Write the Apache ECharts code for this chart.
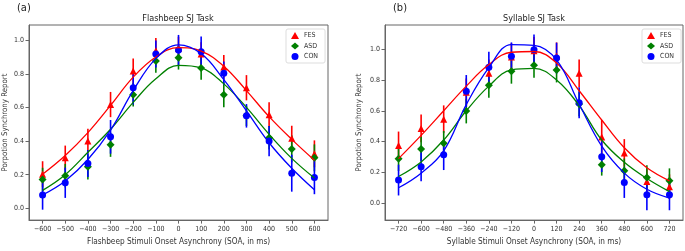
<!DOCTYPE html>
<html>
<head>
<meta charset="utf-8">
<script src="https://cdn.jsdelivr.net/npm/echarts@6/dist/echarts.min.js"></script>
<style>
  html, body { margin: 0; padding: 0; background: #fff; }
  #chart { width: 685px; height: 251px; }
</style>
</head>
<body>
<div id="chart"></div>
<script>
// SOA values (ms)
const soaFlash = [-600, -500, -400, -300, -200, -100, 0, 100, 200, 300, 400, 500, 600];
const soaSyl = [-720, -600, -480, -360, -240, -120, 0, 120, 240, 360, 480, 600, 720];
const yTicks = [0, 0.2, 0.4, 0.6, 0.8, 1.0];

// (a) Flashbeep – group means and error bar half-widths
const flashFES = [0.203, 0.30, 0.40, 0.617, 0.816, 0.937, 0.95, 0.918, 0.841, 0.717, 0.557, 0.416, 0.324];
const flashFESErr = [0.077, 0.073, 0.073, 0.075, 0.075, 0.075, 0.07, 0.07, 0.07, 0.075, 0.074, 0.075, 0.08];
const flashASD = [0.171, 0.194, 0.247, 0.378, 0.675, 0.876, 0.895, 0.835, 0.675, 0.55, 0.42, 0.353, 0.30];
const flashASDErr = [0.07, 0.07, 0.075, 0.072, 0.07, 0.07, 0.07, 0.07, 0.074, 0.06, 0.07, 0.08, 0.08];
const flashCON = [0.079, 0.152, 0.267, 0.425, 0.717, 0.918, 0.941, 0.931, 0.803, 0.55, 0.40, 0.209, 0.184];
const flashCONErr = [0.087, 0.09, 0.08, 0.1, 0.1, 0.08, 0.09, 0.09, 0.07, 0.07, 0.09, 0.11, 0.1];
// fitted curves, read at each SOA
const flashFESFit = [0.203, 0.314, 0.45, 0.612, 0.78, 0.90, 0.955, 0.935, 0.845, 0.70, 0.545, 0.41, 0.286];
const flashASDFit = [0.107, 0.20, 0.333, 0.47, 0.63, 0.77, 0.85, 0.835, 0.74, 0.60, 0.44, 0.297, 0.18];
const flashCONFit = [0.08, 0.163, 0.29, 0.465, 0.70, 0.89, 0.972, 0.92, 0.765, 0.58, 0.39, 0.238, 0.11];

// (b) Syllable
const sylFES = [0.375, 0.485, 0.545, 0.72, 0.843, 0.95, 0.989, 0.954, 0.843, 0.43, 0.326, 0.14, 0.107];
const sylFESErr = [0.09, 0.09, 0.09, 0.09, 0.09, 0.09, 0.09, 0.09, 0.09, 0.11, 0.09, 0.08, 0.08];
const sylASD = [0.289, 0.352, 0.389, 0.598, 0.765, 0.856, 0.895, 0.864, 0.644, 0.249, 0.21, 0.167, 0.146];
const sylASDErr = [0.08, 0.08, 0.08, 0.08, 0.08, 0.08, 0.08, 0.08, 0.08, 0.07, 0.08, 0.08, 0.08];
const sylCON = [0.15, 0.236, 0.315, 0.727, 0.883, 0.954, 0.996, 0.942, 0.652, 0.302, 0.134, 0.054, 0.054];
const sylCONErr = [0.1, 0.094, 0.1, 0.105, 0.1, 0.09, 0.1, 0.1, 0.1, 0.1, 0.1, 0.1, 0.1];
const sylFESFit = [0.289, 0.44, 0.60, 0.76, 0.90, 0.98, 0.985, 0.91, 0.73, 0.54, 0.36, 0.23, 0.145];
const sylASDFit = [0.173, 0.268, 0.41, 0.60, 0.76, 0.865, 0.875, 0.80, 0.634, 0.41, 0.265, 0.16, 0.075];
const sylCONFit = [0.10, 0.195, 0.34, 0.64, 0.88, 1.03, 1.025, 0.93, 0.644, 0.37, 0.195, 0.09, 0.033];

const RED = '#ff0000', GREEN = '#008000', BLUE = '#0000ff';
const FONT = '"DejaVu Sans Condensed", "DejaVu Sans", sans-serif';
const TXT = '#333';
const FRAME = '#666';

const fmtTick = (v) => (v < 0 ? '\u2212' + (-v) : String(v));

function xAxis(gi, min, max, ticks, name) {
  return {
    type: 'value', gridIndex: gi, min, max,
    name, nameLocation: 'middle', nameGap: 15,
    nameTextStyle: { fontFamily: FONT, fontSize: 8.2, color: TXT },
    axisLine: { show: true, onZero: false, lineStyle: { color: FRAME, width: 1 } },
    axisTick: { show: true, length: 3.5, inside: false, customValues: ticks, lineStyle: { color: FRAME } },
    axisLabel: { customValues: ticks, formatter: fmtTick, fontFamily: FONT, fontSize: 7, color: TXT, margin: 6 },
    splitLine: { show: false },
  };
}

function yAxis(gi, min, max, gap) {
  return {
    type: 'value', gridIndex: gi, min, max,
    name: 'Porpotion Synchrony Report', nameLocation: 'middle', nameGap: gap,
    nameTextStyle: { fontFamily: FONT, fontSize: 7.8, color: TXT },
    axisLine: { show: true, onZero: false, lineStyle: { color: FRAME, width: 1 } },
    axisTick: { show: true, length: 3.5, customValues: yTicks, lineStyle: { color: FRAME } },
    axisLabel: { customValues: yTicks, formatter: (v) => v.toFixed(1), fontFamily: FONT, fontSize: 7, color: TXT, margin: 5 },
    splitLine: { show: false },
  };
}

const pairs = (xs, ys) => xs.map((x, i) => [x, ys[i]]);
const bars = (xs, ys, es) => xs.map((x, i) => [x, ys[i] - es[i], ys[i] + es[i]]);

function errSeries(gi, xs, ys, es, color) {
  return {
    type: 'custom', xAxisIndex: gi, yAxisIndex: gi,
    data: bars(xs, ys, es),
    encode: { x: 0, y: [1, 2] },
    renderItem(params, api) {
      const p1 = api.coord([api.value(0), api.value(1)]);
      const p2 = api.coord([api.value(0), api.value(2)]);
      return {
        type: 'line',
        shape: { x1: p1[0], y1: p1[1], x2: p2[0], y2: p2[1] },
        style: { stroke: color, lineWidth: 1.6 },
      };
    },
    z: 2,
  };
}

function fitSeries(gi, xs, ys, color) {
  return {
    type: 'line', xAxisIndex: gi, yAxisIndex: gi,
    data: pairs(xs, ys), smooth: 0.4, showSymbol: false,
    lineStyle: { color, width: 1.3 }, silent: true, z: 4,
  };
}

function ptSeries(gi, name, xs, ys, color, symbol, size) {
  return {
    type: 'scatter', name, xAxisIndex: gi, yAxisIndex: gi,
    data: pairs(xs, ys), symbol, symbolSize: size,
    itemStyle: { color, opacity: 1 }, z: 3,
  };
}

function panel(gi, xs, d) {
  return [
    errSeries(gi, xs, d.fes, d.fesErr, RED),
    ptSeries(gi, 'FES', xs, d.fes, RED, 'triangle', 7),
    errSeries(gi, xs, d.asd, d.asdErr, GREEN),
    ptSeries(gi, 'ASD', xs, d.asd, GREEN, 'diamond', 8),
    errSeries(gi, xs, d.con, d.conErr, BLUE),
    ptSeries(gi, 'CON', xs, d.con, BLUE, 'circle', 7),
    fitSeries(gi, xs, d.fesFit, RED),
    fitSeries(gi, xs, d.asdFit, GREEN),
    fitSeries(gi, xs, d.conFit, BLUE),
  ];
}

function legendAt(left) {
  return {
    left, top: 29, orient: 'vertical',
    data: [
      { name: 'FES', icon: 'triangle' },
      { name: 'ASD', icon: 'diamond' },
      { name: 'CON', icon: 'circle' },
    ],
    itemWidth: 8, itemHeight: 7, itemGap: 3.5,
    padding: [3, 7, 3, 5],
    backgroundColor: '#fff', borderColor: '#ddd', borderWidth: 1, borderRadius: 2,
    textStyle: { fontFamily: FONT, fontSize: 7, color: TXT },
    selectedMode: false,
  };
}

function label(x, y, text, size, align) {
  return {
    type: 'text', x, y,
    style: { text, fontFamily: FONT, fontSize: size, fill: '#222', textAlign: align || 'center', textVerticalAlign: 'middle' },
  };
}

const chart = echarts.init(document.getElementById('chart'), null, { renderer: 'canvas' });
chart.setOption({
  animation: false,
  backgroundColor: '#fff',
  grid: [
    { left: 29, top: 25, width: 299, height: 202, show: true, borderColor: FRAME, borderWidth: 1, backgroundColor: 'transparent' },
    { left: 385, top: 25, width: 298, height: 202, show: true, borderColor: FRAME, borderWidth: 1, backgroundColor: 'transparent' },
  ],
  xAxis: [
    xAxis(0, -660, 660, soaFlash, 'Flashbeep Stimuli Onset Asynchrony (SOA, in ms)'),
    xAxis(1, -792, 792, soaSyl, 'Syllable Stimuli Onset Asynchrony (SOA, in ms)'),
  ],
  yAxis: [
    yAxis(0, -0.07, 1.09, 20),
    yAxis(1, -0.11, 1.157, 22),
  ],
  legend: [legendAt(286), legendAt(642)],
  graphic: [
    label(17, 8.5, '(a)', 11, 'left'),
    label(393, 8.5, '(b)', 11, 'left'),
    label(178, 19, 'Flashbeep SJ Task', 9),
    label(534, 19, 'Syllable SJ Task', 9),
  ],
  series: [
    ...panel(0, soaFlash, {
      fes: flashFES, fesErr: flashFESErr, asd: flashASD, asdErr: flashASDErr, con: flashCON, conErr: flashCONErr,
      fesFit: flashFESFit, asdFit: flashASDFit, conFit: flashCONFit,
    }),
    ...panel(1, soaSyl, {
      fes: sylFES, fesErr: sylFESErr, asd: sylASD, asdErr: sylASDErr, con: sylCON, conErr: sylCONErr,
      fesFit: sylFESFit, asdFit: sylASDFit, conFit: sylCONFit,
    }),
  ],
});
</script>
</body>
</html>
